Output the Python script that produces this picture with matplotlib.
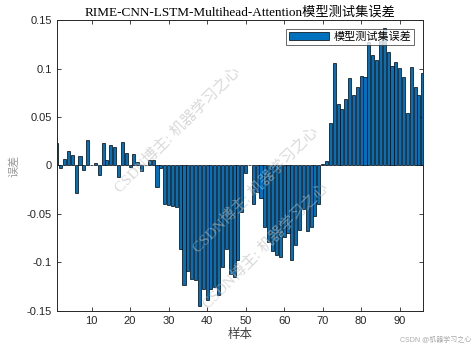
import matplotlib
matplotlib.use("Agg")
import matplotlib.pyplot as plt
import numpy as np

samples = list(range(1, 97))
errors = [
    0.023, -0.003, 0.007, 0.015, 0.011, -0.028, 0.0096, -0.0045, 0.026, 0.0005,
    0.0024, -0.0096, 0.023, 0.006, 0.0216, 0.019, -0.012, 0.024, 0.013, -0.002,
    0.012, 0.0034, -0.006, 0.001, 0.006, 0.006, -0.022, -0.003, -0.040, -0.041,
    -0.042, -0.043, -0.086, -0.123, -0.109, -0.117, -0.118, -0.145, -0.127, -0.139,
    -0.127, -0.125, -0.134, -0.105, -0.086, -0.112, -0.115, -0.097, -0.048, -0.008,
    0.001, -0.040, -0.027, -0.033, -0.063, -0.079, -0.088, -0.092, -0.094, -0.074,
    -0.070, -0.097, -0.082, -0.067, -0.045, -0.068, -0.063, -0.052, -0.040, 0.002,
    0.005, 0.0436, 0.1055, 0.0636, 0.058, 0.069, 0.090, 0.073, 0.081, 0.092,
    0.091, 0.127, 0.114, 0.109, 0.128, 0.142, 0.117, 0.103, 0.1065, 0.101,
    0.091, 0.054, 0.102, 0.081, 0.073, 0.095,
]
yticks = [-0.15, -0.1, -0.05, 0, 0.05, 0.1, 0.15]
ytick_labels = ["-0.15", "-0.1", "-0.05", "0", "0.05", "0.1", "0.15"]
xticks = [10, 20, 30, 40, 50, 60, 70, 80, 90]

title = "RIME-CNN-LSTM-Multihead-Attention模型测试集误差"
legend_label = "模型测试集误差"
xlabel = "样本"
ylabel = "误差"
watermark = "CSDN博主: 机器学习之心"

serif_cjk = ["Liberation Serif", "Noto Sans CJK SC"]
sans_cjk = ["Liberation Sans", "Noto Sans CJK SC"]

fig = plt.figure(figsize=(4.74, 3.51), dpi=100)
ax = fig.add_axes([0.120, 0.114, 0.772, 0.829])

ax.bar(samples, errors, width=0.8, color="#0072BD", edgecolor="black",
       linewidth=0.5, label=legend_label, zorder=2)

ax.set_xlim(1, 96)
ax.set_ylim(-0.15, 0.15)
ax.set_xticks(xticks)
ax.set_xticklabels([str(v) for v in xticks], family=sans_cjk, fontsize=8, color="#262626")
ax.set_yticks(yticks)
ax.set_yticklabels(ytick_labels, family=sans_cjk, fontsize=8, color="#262626")
ax.tick_params(direction="in", length=3, width=0.6, top=True, right=True, colors="#262626")
for sp in ax.spines.values():
    sp.set_color("#262626")
    sp.set_linewidth(0.7)

ax.set_title(title, family=serif_cjk, fontsize=9.5, color="black", pad=3)
ax.set_xlabel(xlabel, family=sans_cjk, fontsize=9, color="#404040", labelpad=2)
ax.set_ylabel(ylabel, family=sans_cjk, fontsize=8, color="#999999", labelpad=5)

leg = ax.legend(loc="upper right", prop={"family": serif_cjk, "size": 8},
                frameon=True, fancybox=False, edgecolor="#262626",
                handlelength=3.6, handleheight=0.8, borderpad=0.25,
                handletextpad=0.4, borderaxespad=0.8)
leg.get_frame().set_linewidth(0.6)
leg.set_zorder(5)

# faint watermarks
for (wx, wy) in [(0.375, 0.63), (0.54, 0.46), (0.56, 0.30)]:
    fig.text(wx, wy, watermark, rotation=45, family=serif_cjk, fontsize=11,
             color="#bbbbbb", alpha=0.55, ha="center", va="center", zorder=10)
fig.text(0.995, 0.02, "CSDN @机器学习之心", family=sans_cjk, fontsize=5,
         color="#aaaaaa", ha="right", va="bottom")

fig.savefig("out.png", dpi=100)
